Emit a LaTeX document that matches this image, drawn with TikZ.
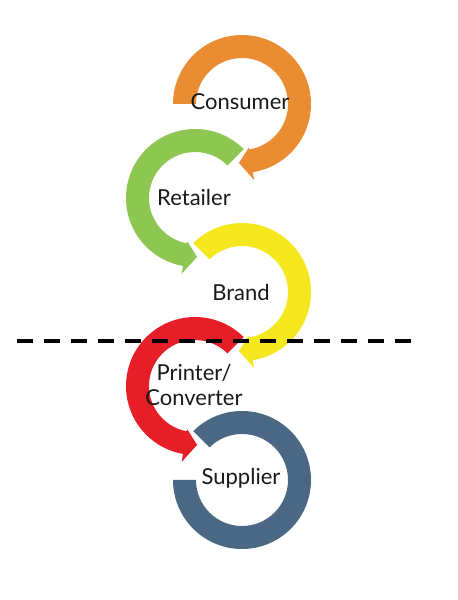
\documentclass[tikz,border=0pt]{standalone}
\usepackage{fontspec}
\setmainfont{Lato}
\usepackage{xcolor}
\usepackage{tikz}
\usetikzlibrary{calc}
\definecolor{cOrange}{RGB}{233,140,50}
\definecolor{cGreen}{RGB}{141,198,80}
\definecolor{cYellow}{RGB}{245,232,30}
\definecolor{cRed}{RGB}{230,30,40}
\definecolor{cBlue}{RGB}{74,104,132}
% band radii, head wings, tip
\newcommand{\Ro}{69pt}
\newcommand{\Ri}{46pt}
\newcommand{\Rw}{77pt}
\newcommand{\Rv}{44pt}
\newcommand{\Rt}{59pt}
% #1 centre, #2 start angle, #3 base of head, #4 tip angle, #5 colour
\newcommand{\ringarrow}[5]{%
  \fill[#5] ($(#1)+(#2:\Ro)$) arc[start angle=#2, end angle=#3, radius=\Ro]
    -- ($(#1)+(#3:\Rw)$) -- ($(#1)+(#4:\Rt)$) -- ($(#1)+(#3:\Rv)$)
    -- ($(#1)+(#3:\Ri)$) arc[start angle=#3, end angle=#2, radius=\Ri] -- cycle;}

\begin{document}
\begin{tikzpicture}[x=1pt, y=1pt,
  lbl/.style={font=\fontsize{22}{25}\selectfont, text=black!90, align=center, inner sep=0pt},
  cut/.style={line width=4pt, dash pattern=on 16pt off 11pt}]
\useasboundingbox (0,0) rectangle (458,600);
%% centres
\coordinate (cons) at (242,496);
\coordinate (ret) at (195,402);
\coordinate (brd) at (242,308);
\coordinate (prn) at (195,214);
\coordinate (sup) at (242,120);
%% arrows
\ringarrow{cons}{180}{-81}{-93}{cOrange}
\ringarrow{ret}{45}{260}{272}{cGreen}
\ringarrow{brd}{135}{-81}{-93}{cYellow}
\ringarrow{prn}{45}{260}{272}{cRed}
\fill[cBlue] ($(sup)+(135:\Ro)$) arc[start angle=135, end angle=-180, radius=\Ro]
  -- ($(sup)+(180:\Ri)$) arc[start angle=-180, end angle=135, radius=\Ri] -- cycle;
%% labels
\node[lbl] (tcons) at (240,498) {Consumer};
\node[lbl] (tret) at (194,403) {Retailer};
\node[lbl] (tbrd) at (241,308) {Brand};
\node[lbl] (tprn) at (194,215) {Printer/\\Converter};
\node[lbl] (tsup) at (241,122) {Supplier};
%% dividing line
\coordinate (dl) at (17,259);
\coordinate (dr) at (420,259);
\draw[cut] (dl) -- (dr);
\end{tikzpicture}
\end{document}
